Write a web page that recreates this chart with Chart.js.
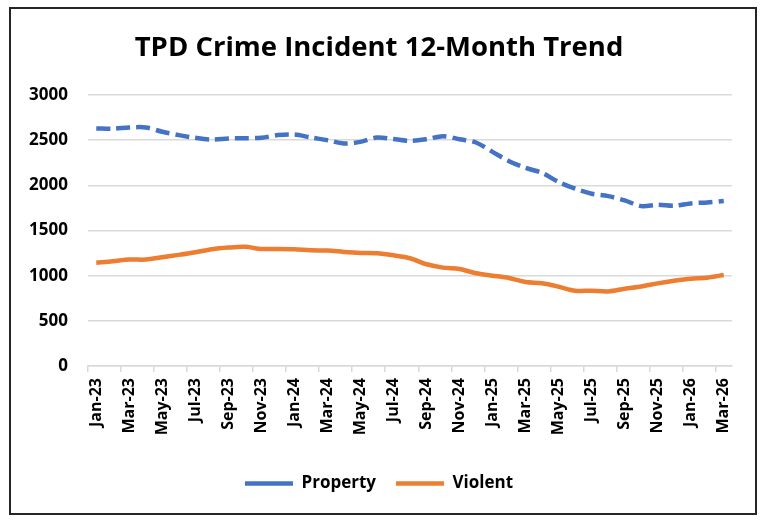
<!DOCTYPE html>
<html>
<head>
<meta charset="utf-8">
<script src="https://cdn.jsdelivr.net/npm/chart.js@4.4.1/dist/chart.umd.min.js"></script>
<style>
  html, body { margin: 0; padding: 0; background: #fff; }
  #wrap { width: 768px; height: 524px; position: relative; }
</style>
</head>
<body>
<div id="wrap"><canvas id="c" width="768" height="524"></canvas></div>
<script>
const months = ["Jan-23","Feb-23","Mar-23","Apr-23","May-23","Jun-23","Jul-23","Aug-23","Sep-23","Oct-23","Nov-23","Dec-23",
  "Jan-24","Feb-24","Mar-24","Apr-24","May-24","Jun-24","Jul-24","Aug-24","Sep-24","Oct-24","Nov-24","Dec-24",
  "Jan-25","Feb-25","Mar-25","Apr-25","May-25","Jun-25","Jul-25","Aug-25","Sep-25","Oct-25","Nov-25","Dec-25",
  "Jan-26","Feb-26","Mar-26"];
const property = [2630,2626,2641,2641,2593,2556,2526,2507,2518,2522,2526,2556,
  2563,2530,2500,2463,2481,2530,2513,2493,2511,2544,2511,2474,
  2370,2267,2193,2137,2037,1963,1907,1881,1833,1770,1785,1774,
  1800,1811,1826];
const violent = [1144,1159,1178,1178,1204,1230,1259,1293,1311,1319,1296,1296,
  1293,1281,1278,1263,1252,1248,1225,1193,1126,1089,1074,1026,
  1000,974,930,915,878,833,833,826,856,881,915,944,
  967,978,1007];
const yTicks = [0,500,1000,1500,2000,2500,3000];
const titleText = "TPD Crime Incident 12-Month Trend";

const FONT = "'Open Sans', Lato, sans-serif";

const borderPlugin = {
  id: 'outerBorder',
  beforeDraw(chart) {
    const ctx = chart.ctx;
    ctx.save();
    ctx.fillStyle = '#ffffff';
    ctx.fillRect(0, 0, chart.width, chart.height);
    ctx.strokeStyle = '#262626';
    ctx.lineWidth = 2;
    ctx.strokeRect(10, 8, 746, 506);
    ctx.restore();
  }
};

new Chart(document.getElementById('c'), {
  type: 'line',
  data: {
    labels: months,
    datasets: [
      {
        label: 'Property',
        data: property,
        borderColor: '#4472C4',
        backgroundColor: '#4472C4',
        borderWidth: 4.5,
        borderDash: [14, 6],
        borderCapStyle: 'butt',
        pointRadius: 0,
        tension: 0.3,
        fill: false
      },
      {
        label: 'Violent',
        data: violent,
        borderColor: '#ED7D31',
        backgroundColor: '#ED7D31',
        borderWidth: 4.5,
        pointRadius: 0,
        tension: 0.3,
        fill: false
      }
    ]
  },
  options: {
    responsive: false,
    animation: false,
    devicePixelRatio: 1,
    layout: { padding: { top: 0, left: 26, right: 36, bottom: 22 } },
    plugins: {
      title: {
        display: true,
        text: titleText,
        color: '#000000',
        font: { family: FONT, size: 27.5, weight: 'bold' },
        padding: { top: 32, bottom: 30 }
      },
      legend: {
        position: 'bottom',
        labels: {
          color: '#000000',
          font: { family: FONT, size: 17, weight: 'bold' },
          usePointStyle: true,
          pointStyle: 'line',
          pointStyleWidth: 48,
          boxHeight: 4,
          padding: 20
        }
      },
      tooltip: { enabled: false }
    },
    scales: {
      x: {
        type: 'category',
        offset: true,
        grid: {
          offset: true,
          drawOnChartArea: false,
          drawTicks: true,
          tickLength: 6,
          color: (ctx) => (ctx.index % 2 === 0 ? '#d9d9d9' : 'rgba(0,0,0,0)'),
          lineWidth: 1.5
        },
        border: { display: true, color: '#d9d9d9', width: 1.5 },
        ticks: {
          autoSkip: false,
          maxRotation: 90,
          minRotation: 90,
          padding: 6,
          color: '#000000',
          font: { family: FONT, size: 16, weight: 'bold' },
          callback: function(value, index) { return index % 2 === 0 ? this.getLabelForValue(value) : ''; }
        },
        afterFit(scale) { scale.height = 89; }
      },
      y: {
        min: 0,
        max: 3000,
        afterBuildTicks(scale) { scale.ticks = yTicks.map(v => ({ value: v })); },
        grid: { color: '#d9d9d9', lineWidth: 1.5, drawTicks: false },
        border: { display: false },
        ticks: {
          padding: 20,
          color: '#000000',
          font: { family: FONT, size: 17, weight: 'bold' },
          callback: (v) => String(v)
        },
        afterFit(scale) { scale.width = 62; }
      }
    }
  },
  plugins: [borderPlugin]
});
</script>
</body>
</html>
